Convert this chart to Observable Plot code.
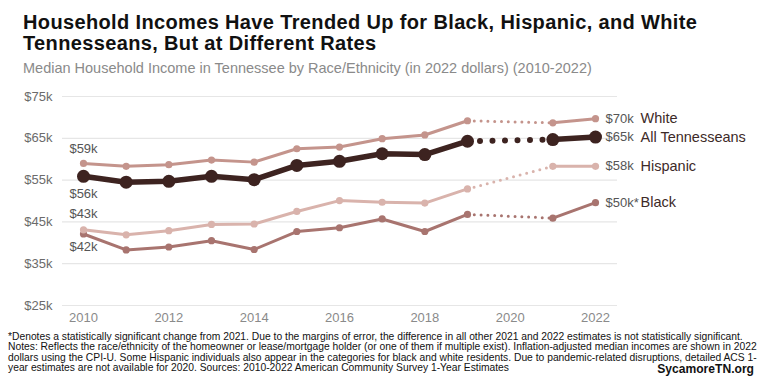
<!DOCTYPE html>
<html>
<head>
<meta charset="utf-8">
<script src="https://cdn.jsdelivr.net/npm/d3@7"></script>
<script src="https://cdn.jsdelivr.net/npm/@observablehq/plot@0.6"></script>
<style>
  html, body { margin: 0; padding: 0; background: #fff; }
  body { width: 768px; height: 384px; position: relative; overflow: hidden; font-family: "Liberation Sans", Arial, Helvetica, sans-serif; }
  #title { position: absolute; left: 23px; top: 11.6px; font-size: 20px; line-height: 21px; font-weight: bold; color: #111; white-space: nowrap; letter-spacing: 0.36px; }
  #subtitle { position: absolute; left: 23px; top: 60px; font-size: 14.5px; line-height: 16.5px; color: #8a8a8a; white-space: nowrap; }
  #chart { position: absolute; left: 0; top: 80px; }
  #notes { position: absolute; left: 8px; top: 331.5px; font-size: 10.3px; line-height: 10.5px; color: #111; white-space: nowrap; }
  #brand { position: absolute; right: 14px; top: 363.3px; font-size: 12.1px; line-height: 13px; font-weight: bold; color: #111; }
</style>
</head>
<body>
<div id="title">Household Incomes Have Trended Up for Black, Hispanic, and White<br>Tennesseans, But at Different Rates</div>
<div id="subtitle">Median Household Income in Tennessee by Race/Ethnicity (in 2022 dollars) (2010-2022)</div>
<div id="chart"></div>
<div id="notes">*Denotes a statistically significant change from 2021. Due to the margins of error, the difference in all other 2021 and 2022 estimates is not statistically significant.<br>Notes: Reflects the race/ethnicity of the homeowner or lease/mortgage holder (or one of them if multiple exist). Inflation-adjusted median incomes are shown in 2022<br>dollars using the CPI-U. Some Hispanic individuals also appear in the categories for black and white residents. Due to pandemic-related disruptions, detailed ACS 1-<br>year estimates are not available for 2020. Sources: 2010-2022 American Community Survey 1-Year Estimates</div>
<div id="brand">SycamoreTN.org</div>
<script>
// ---- Data (thousands of 2022 dollars) ----
const years = [2010, 2011, 2012, 2013, 2014, 2015, 2016, 2017, 2018, 2019, 2021, 2022];
const allTennesseans = [55.9, 54.5, 54.7, 55.9, 55.1, 58.5, 59.5, 61.3, 61.1, 64.3, 64.7, 65.3];
const white = [59.0, 58.3, 58.7, 59.8, 59.3, 62.5, 62.9, 64.9, 65.8, 69.2, 68.7, 69.7];
const hispanic = [43.1, 41.9, 42.9, 44.4, 44.5, 47.5, 50.1, 49.7, 49.5, 52.9, 58.3, 58.3];
const black = [42.1, 38.3, 39.0, 40.5, 38.4, 42.7, 43.6, 45.7, 42.7, 46.8, 45.9, 49.6];
const seriesNames = ["Black", "Hispanic", "White", "All Tennesseans"];
const startLabels = ["$42k", "$43k", "$59k", "$56k"];
const endLabels = ["$50k*", "$58k", "$70k", "$65k"];
const yTicks = [25, 35, 45, 55, 65, 75];
const xTicks = [2010, 2012, 2014, 2016, 2018, 2020, 2022];

// ---- Styles ----
const seriesValues = [black, hispanic, white, allTennesseans];
const colors = ["#a8746f", "#d9b3ac", "#c4948c", "#3d2320"];
const startDy = [13, -16, -15, 17];
const heavy = [false, false, false, true];

const marks = [
  Plot.ruleY(yTicks, {stroke: "#e6e6e6", strokeWidth: 1.2}),
  Plot.axisY({ticks: yTicks, tickSize: 0, tickPadding: 10, fontSize: 13, color: "#6b6b6b", tickFormat: d => `$${d}k`, label: null}),
  Plot.axisX({ticks: xTicks, tickSize: 0, tickPadding: 7.5, fontSize: 13, color: "#8a8a8a", tickFormat: d => String(d), label: null})
];

seriesNames.forEach((name, i) => {
  const rows = years.map((year, j) => ({series: name, year, value: seriesValues[i][j], seg: year <= 2019 ? "a" : "b"}));
  const gap = rows.filter(d => d.year === 2019 || d.year === 2021);
  const last = rows[rows.length - 1];
  const first = rows[0];
  const big = heavy[i];
  marks.push(
    Plot.line(gap, {x: "year", y: "value", stroke: colors[i], strokeWidth: big ? 6 : 3, strokeDasharray: big ? "0 12.5" : "0 6.8", strokeLinecap: "round"}),
    Plot.line(rows, {x: "year", y: "value", z: "seg", stroke: colors[i], strokeWidth: big ? 5.5 : 3, strokeLinejoin: "round", strokeLinecap: "round"}),
    Plot.dot(rows, {x: "year", y: "value", r: big ? 6.5 : 3.6, fill: colors[i], stroke: "none"}),
    Plot.text([last], {x: "year", y: "value", text: () => endLabels[i], dx: 10, textAnchor: "start", fontSize: 13, fill: "#555"}),
    Plot.text([last], {x: "year", y: "value", text: () => name, dx: 45, textAnchor: "start", fontSize: 14.5, fill: "#3d2a28"}),
    Plot.text([first], {x: "year", y: "value", text: () => startLabels[i], dy: startDy[i], textAnchor: "middle", fontSize: 13, fill: "#555"})
  );
});

const chart = Plot.plot({
  width: 768,
  height: 250,
  marginTop: 16,
  marginBottom: 25,
  marginLeft: 62,
  marginRight: 151,
  style: {fontFamily: "'Liberation Sans', Arial, Helvetica, sans-serif", background: "transparent", overflow: "visible"},
  x: {domain: [2010, 2022], insetLeft: 21, insetRight: 22},
  y: {domain: [25, 75]},
  marks
});
document.getElementById("chart").appendChild(chart);
</script>
</body>
</html>
